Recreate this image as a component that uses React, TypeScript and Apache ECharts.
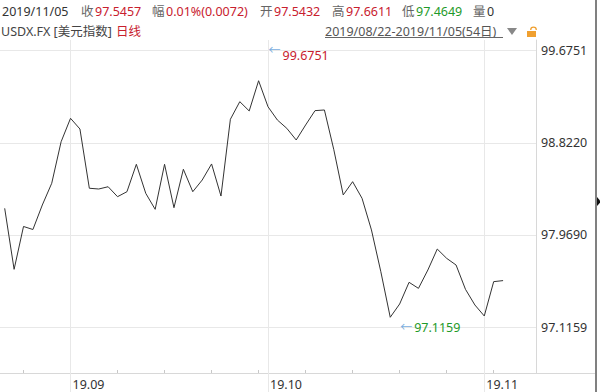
import React, { useEffect, useRef } from "react";
import * as echarts from "echarts";

// ---- data ----
const dates = [
  "2019-08-22", "2019-08-23", "2019-08-26", "2019-08-27", "2019-08-28", "2019-08-29", "2019-08-30",
  "2019-09-02", "2019-09-03", "2019-09-04", "2019-09-05", "2019-09-06", "2019-09-09", "2019-09-10",
  "2019-09-11", "2019-09-12", "2019-09-13", "2019-09-16", "2019-09-17", "2019-09-18", "2019-09-19",
  "2019-09-20", "2019-09-23", "2019-09-24", "2019-09-25", "2019-09-26", "2019-09-27", "2019-09-30",
  "2019-10-01", "2019-10-02", "2019-10-03", "2019-10-04", "2019-10-07", "2019-10-08", "2019-10-09",
  "2019-10-10", "2019-10-11", "2019-10-14", "2019-10-15", "2019-10-16", "2019-10-17", "2019-10-18",
  "2019-10-21", "2019-10-22", "2019-10-23", "2019-10-24", "2019-10-25", "2019-10-28", "2019-10-29",
  "2019-10-30", "2019-10-31", "2019-11-01", "2019-11-04", "2019-11-05",
];
const closes = [
  98.215, 97.65, 98.047, 98.019, 98.246, 98.447, 98.832,
  99.049, 98.95, 98.401, 98.394, 98.415, 98.323, 98.369,
  98.623, 98.354, 98.206, 98.623, 98.221, 98.577, 98.369,
  98.477, 98.626, 98.329, 99.04, 99.203, 99.117, 99.397,
  99.156, 99.033, 98.956, 98.848, 98.987, 99.12, 99.126,
  98.758, 98.339, 98.462, 98.308, 98.015, 97.628, 97.206,
  97.329, 97.53, 97.474, 97.644, 97.838, 97.752, 97.69,
  97.465, 97.32, 97.218, 97.536, 97.5457,
];
const padCategories = ["pad1", "pad2", "pad3"];
const monthStarts = ["2019-09-02", "2019-10-01", "2019-11-01"];
const monthLabels = ["19.09", "19.10", "19.11"];
const yTicks = [99.6751, 98.822, 97.969, 97.1159];
const yMin = 96.6899;
const yMax = 99.7742;
const highDate = "2019-10-01";
const highValue = 99.6751;
const lowDate = "2019-10-21";
const lowValue = 97.1159;

const headerDate = "2019/11/05";
const headerClose = "97.5457";
const headerChange = "0.01%(0.0072)";
const headerOpen = "97.5432";
const headerHigh = "97.6611";
const headerLow = "97.4649";
const headerVolume = "0";
const rangeText = "2019/08/22-2019/11/05(54日)";

const FONT = '"Microsoft YaHei", "Noto Sans", "Noto Sans CJK SC", sans-serif';
const RED = "#c8202e";
const GREEN = "#1f9a2a";
const GRAY = "#666";
const DARK = "#333";
const GRID = "#e8e8e8";

function txt(text: string, x: number, y: number, fill: string) {
  return {
    type: "text",
    x,
    y,
    silent: true,
    style: { text, fill, font: `12.5px ${FONT}`, textVerticalAlign: "middle", textAlign: "left" },
  };
}

export default function App() {
  const ref = useRef<HTMLDivElement>(null);
  useEffect(() => {
    document.body.style.margin = "0";
    const chart = echarts.init(ref.current!, null, { renderer: "svg" });
    const categories = [...dates, ...padCategories];
    const r1 = 11.5;
    const r2 = 31;
    chart.setOption({
      animation: false,
      backgroundColor: "#fff",
      textStyle: { fontFamily: FONT },
      grid: { left: 0, top: 40, width: 536, height: 333 },
      xAxis: {
        type: "category",
        data: categories,
        boundaryGap: true,
        axisLine: { show: true, lineStyle: { color: "#d8d8d8", width: 1 } },
        axisTick: {
          show: true,
          inside: true,
          length: 3,
          alignWithLabel: true,
          interval: (i: number) => i % 5 === 2,
          lineStyle: { color: "#c8c8c8" },
        },
        axisLabel: {
          show: true,
          interval: (_i: number, v: string) => monthStarts.includes(v),
          formatter: (v: string) => {
            const k = monthStarts.indexOf(v);
            return k >= 0 ? monthLabels[k] : "";
          },
          align: "left",
          padding: [0, 0, 0, 2],
          margin: 5,
          color: DARK,
          fontSize: 12.5,
          fontFamily: FONT,
        },
        splitLine: { show: false },
      },
      yAxis: {
        type: "value",
        position: "right",
        min: yMin,
        max: yMax,
        axisLine: { show: true, lineStyle: { color: "#d8d8d8" } },
        axisTick: { show: false },
        axisLabel: { show: false },
        splitLine: { show: false },
      },
      series: [
        {
          type: "line",
          data: [],
          z: 1,
          silent: true,
          markLine: {
            silent: true,
            z: 1,
            precision: 4,
            symbol: ["none", "none"],
            animation: false,
            lineStyle: { color: GRID, width: 1, type: "solid" },
            label: {
              show: true,
              position: "end",
              distance: 5,
              color: DARK,
              fontSize: 12.5,
              fontFamily: FONT,
              formatter: (p: any) => (typeof p.value === "number" ? p.value.toFixed(4) : ""),
            },
            data: [
              ...yTicks.map((v) => ({ yAxis: v })),
              ...monthStarts.map((d) => [
                { xAxis: d, y: 40, label: { show: false } },
                { xAxis: d, y: 392, label: { show: false } },
              ]),
            ],
          },
        },
        {
          type: "line",
          data: closes,
          z: 3,
          showSymbol: false,
          symbol: "none",
          silent: true,
          lineStyle: { color: "#333", width: 1 },
          markPoint: {
            silent: true,
            symbol: "circle",
            symbolSize: 1,
            itemStyle: { color: "rgba(0,0,0,0)" },
            data: [
              {
                coord: [highDate, highValue],
                label: {
                  show: true,
                  position: "right",
                  distance: 0,
                  formatter: `{a|←}{b|${highValue.toFixed(4)}}`,
                  rich: {
                    a: { color: "#7aaee0", fontSize: 12, fontFamily: FONT, padding: [0, 2, 0, 0] },
                    b: { color: RED, fontSize: 12.5, fontFamily: FONT, padding: [10, 0, 0, 0] },
                  },
                },
              },
              {
                coord: [lowDate, lowValue],
                label: {
                  show: true,
                  position: "right",
                  distance: 0,
                  formatter: `{a|←}{b|${lowValue.toFixed(4)}}`,
                  rich: {
                    a: { color: "#7aaee0", fontSize: 12, fontFamily: FONT, padding: [0, 2, 0, 0] },
                    b: { color: GREEN, fontSize: 12.5, fontFamily: FONT },
                  },
                },
              },
            ],
          },
        },
      ],
      graphic: [
        txt(headerDate, 2, r1, DARK),
        txt("收", 81, r1, GRAY),
        txt(headerClose, 95, r1, RED),
        txt("幅", 152, r1, GRAY),
        txt(headerChange, 166, r1, RED),
        txt("开", 260, r1, GRAY),
        txt(headerOpen, 274, r1, RED),
        txt("高", 332, r1, GRAY),
        txt(headerHigh, 346, r1, RED),
        txt("低", 402, r1, GRAY),
        txt(headerLow, 416, r1, GREEN),
        txt("量", 473, r1, GRAY),
        txt(headerVolume, 487, r1, DARK),
        txt("USDX.FX [美元指数]", 1, r2, "#444"),
        txt("日线", 116, r2, RED),
        txt(rangeText, 325, r2, "#555"),
        { type: "line", silent: true, shape: { x1: 325, y1: 37.5, x2: 503, y2: 37.5 }, style: { stroke: "#666", lineWidth: 1 } },
        { type: "polygon", silent: true, shape: { points: [[507, 28], [517, 28], [512, 35]] }, style: { fill: "#888" } },
        { type: "rect", silent: true, shape: { x: 527, y: 31, width: 9, height: 6 }, style: { fill: "#f0a030" } },
        { type: "arc", silent: true, shape: { cx: 533.5, cy: 30, r: 2.8, startAngle: Math.PI, endAngle: 2 * Math.PI }, style: { stroke: "#f0a030", lineWidth: 1.3, fill: "none" } },
        { type: "line", silent: true, shape: { x1: 536, y1: 373.5, x2: 596, y2: 373.5 }, style: { stroke: "#d8d8d8", lineWidth: 1 } },
        { type: "rect", silent: true, shape: { x: 595, y: 0, width: 2, height: 392 }, style: { fill: "#808080" } },
        { type: "polygon", silent: true, shape: { points: [[597, 197], [601, 201.5], [597, 206]] }, style: { fill: "#111" } },
      ],
    });
    return () => chart.dispose();
  }, []);
  return <div ref={ref} style={{ position: "fixed", left: 0, top: 0, width: 600, height: 392 }} />;
}
